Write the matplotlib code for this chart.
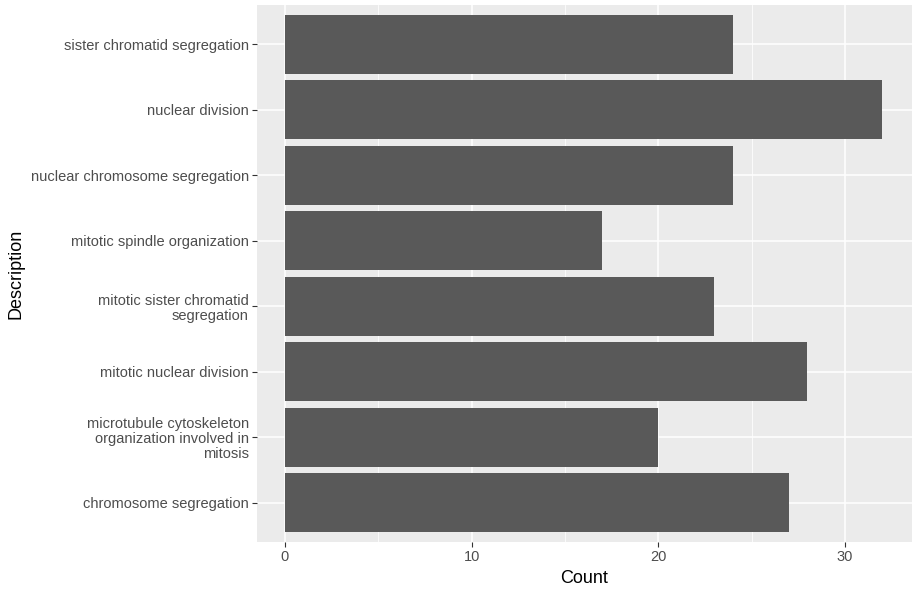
import matplotlib
matplotlib.use("Agg")
from matplotlib import pyplot
import matplotlib.ticker

# data, bottom to top
descriptions = [
    "chromosome segregation",
    "microtubule cytoskeleton\norganization involved in\nmitosis",
    "mitotic nuclear division",
    "mitotic sister chromatid\nsegregation",
    "mitotic spindle organization",
    "nuclear chromosome segregation",
    "nuclear division",
    "sister chromatid segregation",
]
counts = [27, 20, 28, 23, 17, 24, 32, 24]

pyplot.rcParams['font.family'] = ['Liberation Sans', 'DejaVu Sans']

fig = pyplot.figure(figsize=(9.22, 5.97), dpi=100, facecolor='white')
ax = fig.add_axes([257 / 922, 1 - 542 / 597, (912 - 257) / 922, (542 - 5) / 597])
ax.set_facecolor('#EBEBEB')

pos = list(range(1, len(descriptions) + 1))
ax.barh(pos, counts, height=0.9, color='#595959', zorder=3)

ax.set_xlim(-1.5, 33.6)
ax.set_ylim(0.4, len(descriptions) + 0.6)
ax.set_xticks([0, 10, 20, 30])
ax.xaxis.set_minor_locator(matplotlib.ticker.FixedLocator([5, 15, 25]))
ax.set_yticks(pos)
ax.set_yticklabels(descriptions, multialignment='right', linespacing=1.1)

ax.grid(which='major', color='white', linewidth=1.1, zorder=0)
ax.grid(which='minor', axis='x', color='white', linewidth=0.55, zorder=0)
ax.set_axisbelow(True)
for s in ax.spines.values():
    s.set_visible(False)

ax.tick_params(which='major', length=3.5, width=0.8, color='#333333',
               labelcolor='#4D4D4D', labelsize=10.5, pad=2.5)
ax.tick_params(which='minor', length=0)

ax.set_xlabel("Count", fontsize=13, color='black', labelpad=4)
ax.set_ylabel("Description", fontsize=13, color='black', labelpad=4)

pyplot.savefig("out.png", dpi=100, facecolor='white')
